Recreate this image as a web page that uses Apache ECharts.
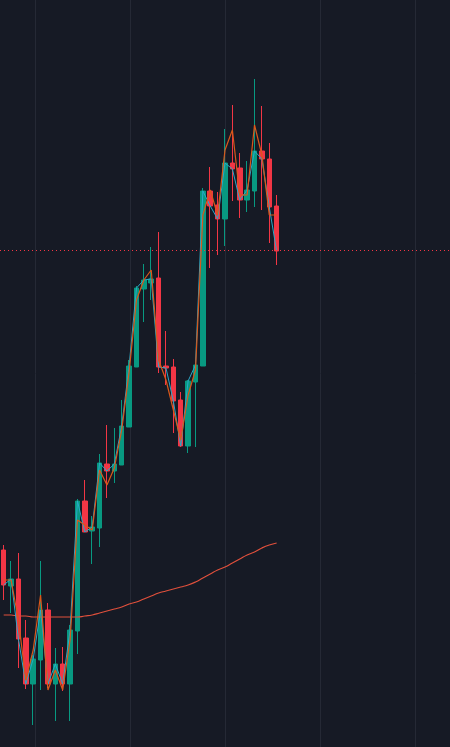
<!DOCTYPE html>
<html>
<head>
<meta charset="utf-8">
<script src="https://cdn.jsdelivr.net/npm/echarts@6/dist/echarts.min.js"></script>
<style>html,body{margin:0;padding:0;background:#161a25;}#main{width:450px;height:747px;}</style>
</head>
<body>
<div id="main"></div>
<script>
// candle values
var opens  = [200,164,171,112,66,90,140,66,86,66,119,249,219,222,286,279,285,323,383,461,467,472,384,383,350,304,368,384,559,545,531,587,582,550,559,599,591,544];
var closes = [165,171,111,66,91,140,66,86,66,120,249,218,223,287,279,286,324,384,462,470,471,383,382,349,304,369,385,559,544,531,587,581,550,560,599,591,543,499];
var highs  = [205,189,197,130,95,189,147,102,103,125,251,270,234,296,325,322,350,390,464,486,503,518,419,391,358,370,387,562,583,558,621,645,597,589,671,644,607,555];
var lows   = [150,137,82,61,25,60,62,29,59,29,96,218,186,203,252,267,285,323,383,428,450,377,365,317,303,297,303,384,482,495,504,549,532,538,543,540,507,485];
var fastLine = [170,170,130,70,100,155,60,80,60,110,230,225,220,280,265,282,320,378,450,470,480,390,370,340,310,355,380,535,560,535,600,620,555,555,625,595,535,535];
var slowMA = [135,135,134,134,133,133,133,133,133,133,133,134,135,137,139,141,143,146,148,151,154,157,159,161,163,165,168,172,176,180,183,187,191,195,198,202,205,207];
var lastPrice = 500;
var nCats = 61;

var cats = [];
for (var i = 0; i < nCats; i++) cats.push(i);
var candles = opens.map(function (o, i) { return [o, closes[i], lows[i], highs[i]]; });

var myChart = echarts.init(document.getElementById('main'));
var option = {
    backgroundColor: '#161a25',
    animation: false,
    grid: [
        {left: -6, right: 0, top: 0, bottom: 0},
        {left: 35, right: 0, top: 0, bottom: 0}
    ],
    xAxis: [
        {type: 'category', data: cats, gridIndex: 0, show: false},
        {type: 'value', gridIndex: 1, min: 35, max: 450, interval: 95,
         axisLine: {show: false}, axisTick: {show: false}, axisLabel: {show: false},
         splitLine: {show: true, lineStyle: {color: '#252935', width: 1}}}
    ],
    yAxis: [
        {type: 'value', gridIndex: 0, min: 3, max: 750, show: false},
        {type: 'value', gridIndex: 1, min: 0, max: 1, show: false}
    ],
    series: [
        {
            type: 'line', data: slowMA, smooth: true, symbol: 'none',
            lineStyle: {color: '#e0503c', width: 1.2}
        },
        {
            type: 'candlestick', data: candles, barWidth: 5,
            itemStyle: {color: '#089981', color0: '#f23645', borderColor: '#089981', borderColor0: '#f23645', borderWidth: 1},
            markLine: {
                symbol: 'none', silent: true, label: {show: false},
                lineStyle: {color: '#f23645', type: [1, 3], width: 1},
                data: [{yAxis: lastPrice}]
            }
        },
        {
            type: 'line', data: closes, symbol: 'none',
            lineStyle: {color: '#29a9c8', width: 1}
        },
        {
            type: 'line', data: fastLine, symbol: 'none',
            lineStyle: {color: '#d9581a', width: 1.2}
        }
    ]
};
myChart.setOption(option);
</script>
</body>
</html>
